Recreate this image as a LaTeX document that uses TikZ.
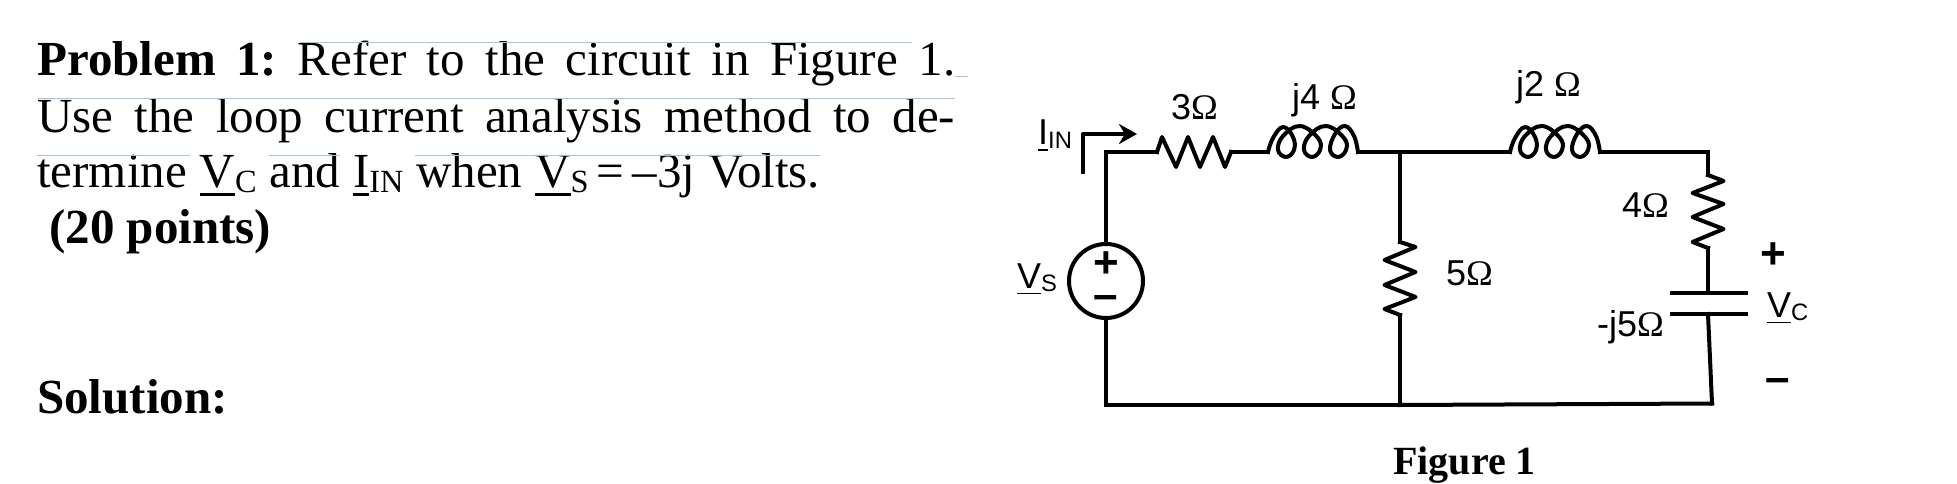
\documentclass[tikz,border=0pt]{standalone}
\usepackage{fontspec}
\setmainfont{Liberation Serif}
\setsansfont{Liberation Sans}
\usetikzlibrary{arrows.meta}
\definecolor{ruleblue}{HTML}{A9C6D6}
\frenchspacing
\newcommand{\barred}[1]{\setbox0\hbox{#1}\rlap{\rule[-.18em]{\wd0}{.055em}}\box0}
\newcommand{\lowtxt}[1]{\raisebox{-.11em}{\scalebox{.66}{#1}}}
\newcommand{\ohm}{{\rmfamily Ω}}

\begin{document}
\begin{tikzpicture}
	[x=1pt,y=-1pt,
	wire/.style={line width=4pt,line cap=rect,line join=round},
	body/.style={anchor=base west,inner sep=0pt,font=\fontsize{49}{56}\selectfont},
	caption/.style={anchor=base west,inner sep=0pt,font=\fontsize{40}{46}\selectfont\bfseries},
	value/.style={anchor=base west,inner sep=0pt,font=\fontsize{36}{40}\selectfont\sffamily},
	sign/.style={inner sep=0pt,font=\fontsize{44}{50}\selectfont\sffamily\bfseries},
	guide/.style={draw=ruleblue,line width=.8pt}]
	\useasboundingbox (0,0) rectangle (1957,484);

	\node[body] (line1) at (37,76) {\makebox[918pt][s]{\textbf{Problem 1:} Refer to the circuit in Figure 1.}};
	\node[body] (line2) at (37,132) {\makebox[918pt][s]{Use the loop current analysis method to de-}};
	\node[body] (line3) at (37,187) {\makebox[783pt][s]{termine \barred{V}\lowtxt{C} and \barred{I}\lowtxt{IN} when \barred{V}\lowtxt{S}\,=\,–3j Volts.}};
	\node[body] (line4) at (49,243) {\textbf{(20 points)}};
	\node[body] (solution) at (37,413) {\textbf{Solution:}};
	\node[caption] (figcap) at (1393,474) {Figure 1};

	\coordinate (g1a) at (300,42);
	\coordinate (g1b) at (912,42);
	\coordinate (g2a) at (955,76);
	\coordinate (g2b) at (968,76);
	\coordinate (g3a) at (37,98);
	\coordinate (g3b) at (955,98);
	\coordinate (g4a) at (37,155);
	\coordinate (g4b) at (190,155);
	\coordinate (g5a) at (269,155);
	\coordinate (g5b) at (340,155);
	\coordinate (g6a) at (415,155);
	\coordinate (g6b) at (820,155);
	\foreach \from/\to in {g1a/g1b,g2a/g2b,g3a/g3b,g4a/g4b,g5a/g5b,g6a/g6b}
	\draw[guide] (\from) -- (\to);

	\node[wire,draw,circle,minimum size=74pt,inner sep=0pt] (vs) at (1106,281) {};
	\node[sign] (vsplus) at (1106,265) {+};
	\node[sign] (vsminus) at (1106,303) {–};
	\node[sign] (vcplus) at (1773,256) {+};
	\node[sign] (vcminus) at (1778,386) {–};

	\coordinate (tl) at (1106,152);
	\coordinate (r1a) at (1157,152);
	\coordinate (r1b) at (1231,152);
	\coordinate (l1a) at (1268,152);
	\coordinate (l1b) at (1358,152);
	\coordinate (tm) at (1400,152);
	\coordinate (l2a) at (1510,152);
	\coordinate (l2b) at (1600,152);
	\coordinate (tr) at (1708,152);
	\coordinate (r2a) at (1400,242);
	\coordinate (r2b) at (1400,315);
	\coordinate (r3a) at (1708,175);
	\coordinate (r3b) at (1708,248);
	\coordinate (c1) at (1708,293);
	\coordinate (c2) at (1708,314);
	\coordinate (c1l) at (1672,293);
	\coordinate (c1r) at (1746,293);
	\coordinate (c2l) at (1672,314);
	\coordinate (c2r) at (1746,314);
	\coordinate (br) at (1712,403.5);
	\coordinate (bm) at (1400,405);
	\coordinate (bl) at (1106,405);

	\foreach \from/\to in {vs/tl,tl/r1a,r1b/l1a,l1b/tm,tm/l2a,l2b/tr,tr/r3a,r3b/c1,c2/br,br/bm,bm/bl,bl/vs,tm/r2a,r2b/bm,c1l/c1r,c2l/c2r}
	\draw[wire] (\from) -- (\to);

	\draw[wire] (r1a) -- ++(5,-15) -- ++(14,30) -- ++(12,-30) -- ++(12,30) -- ++(13,-30) -- ++(12,30) -- (r1b);
	\draw[wire] (r2a) -- ++(15.5,5) -- ++(-31,13) -- ++(31,12) -- ++(-31,13) -- ++(31,12) -- ++(-31,12) -- (r2b);
	\draw[wire] (r3a) -- ++(15.5,6) -- ++(-31,12) -- ++(31,11) -- ++(-31,13) -- ++(31,12) -- ++(-31,13) -- (r3b);

	\foreach \start in {l1a,l2a}
	\draw[wire,shift={(\start)}] plot[smooth,tension=.7] coordinates {(0,0) (5,-14) (15,-25) (25,-15) (26,-2) (18,5) (10,-2) (15,-16) (32,-26) (50,-14) (52,-2) (44,5) (36,-2) (41,-16) (58,-26) (76,-14) (78,-2) (70,5) (62,-2) (67,-18) (77,-26) (86,-16) (90,0)};

	\coordinate (arrowfoot) at (1083,172);
	\coordinate (arrowbend) at (1083,134);
	\coordinate (arrowtip) at (1137,134);
	\draw[wire,-{Stealth[length=18pt,width=20pt]}] (arrowfoot) -- (arrowbend) -- (arrowtip);

	\node[value] (iin) at (1038,145) {\barred{I}\lowtxt{IN}};
	\node[value] (vslabel) at (1017,288) {\barred{V}\lowtxt{S}};
	\node[value] (vclabel) at (1767,317) {\barred{V}\lowtxt{C}};
	\node[value] (r1label) at (1171,120) {3\ohm};
	\node[value] (l1label) at (1292,110) {j4 \ohm};
	\node[value] (l2label) at (1516,97) {j2 \ohm};
	\node[value] (r2label) at (1446,285) {5\ohm};
	\node[value] (r3label) at (1622,217) {4\ohm};
	\node[value] (c1label) at (1597,336) {-j5\ohm};
\end{tikzpicture}
\end{document}
